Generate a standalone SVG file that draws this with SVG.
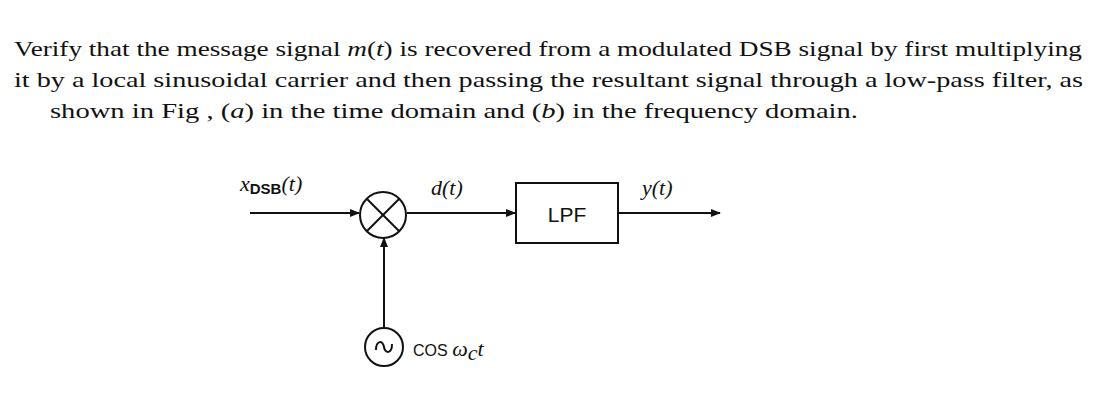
<svg xmlns="http://www.w3.org/2000/svg" width="1099" height="411" viewBox="0 0 1099 411">
<style>
.t{font-family:"Liberation Serif","Times New Roman",serif;font-size:22px;fill:#111}
.l{stroke:#111;stroke-width:2;fill:none}
.s{font-family:"Liberation Sans",Arial,sans-serif;fill:#111}
.i{font-family:"Liberation Serif","Times New Roman",serif;font-style:italic;fill:#111;font-size:22px}
</style>
<defs><marker id="a" markerWidth="10" markerHeight="8" refX="9" refY="4" orient="auto" markerUnits="userSpaceOnUse"><path d="M0,0 L10,4 L0,8 z" fill="#111"/></marker></defs>
<rect width="1099" height="411" fill="#fff"/>
<text class="t" x="14" y="56" textLength="1068" lengthAdjust="spacingAndGlyphs">Verify that the message signal <tspan font-style="italic">m</tspan>(<tspan font-style="italic">t</tspan>) is recovered from a modulated DSB signal by first multiplying</text>
<text class="t" x="14" y="87" textLength="1069" lengthAdjust="spacingAndGlyphs">it by a local sinusoidal carrier and then passing the resultant signal through a low-pass filter, as</text>
<text class="t" x="50" y="118" textLength="808" lengthAdjust="spacingAndGlyphs">shown in Fig  , (<tspan font-style="italic">a</tspan>) in the time domain and (<tspan font-style="italic">b</tspan>) in the frequency domain.</text>
<g id="connectors">
<line class="l" x1="250" y1="213" x2="359" y2="213" marker-end="url(#a)"/>
<line class="l" x1="407" y1="213" x2="515" y2="213" marker-end="url(#a)"/>
<line class="l" x1="618" y1="213" x2="720" y2="213" marker-end="url(#a)"/>
<line class="l" x1="384" y1="327" x2="384" y2="238" marker-end="url(#a)"/>
</g>
<g id="mult"><circle class="l" cx="383" cy="215" r="23"/><line class="l" x1="367" y1="199" x2="399" y2="231"/><line class="l" x1="399" y1="199" x2="367" y2="231"/></g>
<g id="lpf"><rect class="l" x="516" y="183" width="102" height="60"/><text class="s" x="567" y="222" font-size="21" text-anchor="middle">LPF</text></g>
<g id="osc"><circle class="l" cx="384" cy="347" r="19"/><path class="l" d="M376,350 C376,340 383,340 384,347 C385,354 392,354 392,344"/><text class="s" x="413" y="356" font-size="16">COS <tspan class="i" font-size="20">ω</tspan><tspan class="i" font-size="13" dy="4">c</tspan><tspan class="i" font-size="20" dy="-4">t</tspan></text></g>
<text class="i" x="240" y="191">x<tspan class="s" font-style="normal" font-size="15" font-weight="bold" dy="3">DSB</tspan><tspan dy="-3">(t)</tspan></text>
<text class="i" x="431" y="195">d(t)</text>
<text class="i" x="642" y="195">y(t)</text>
</svg>
